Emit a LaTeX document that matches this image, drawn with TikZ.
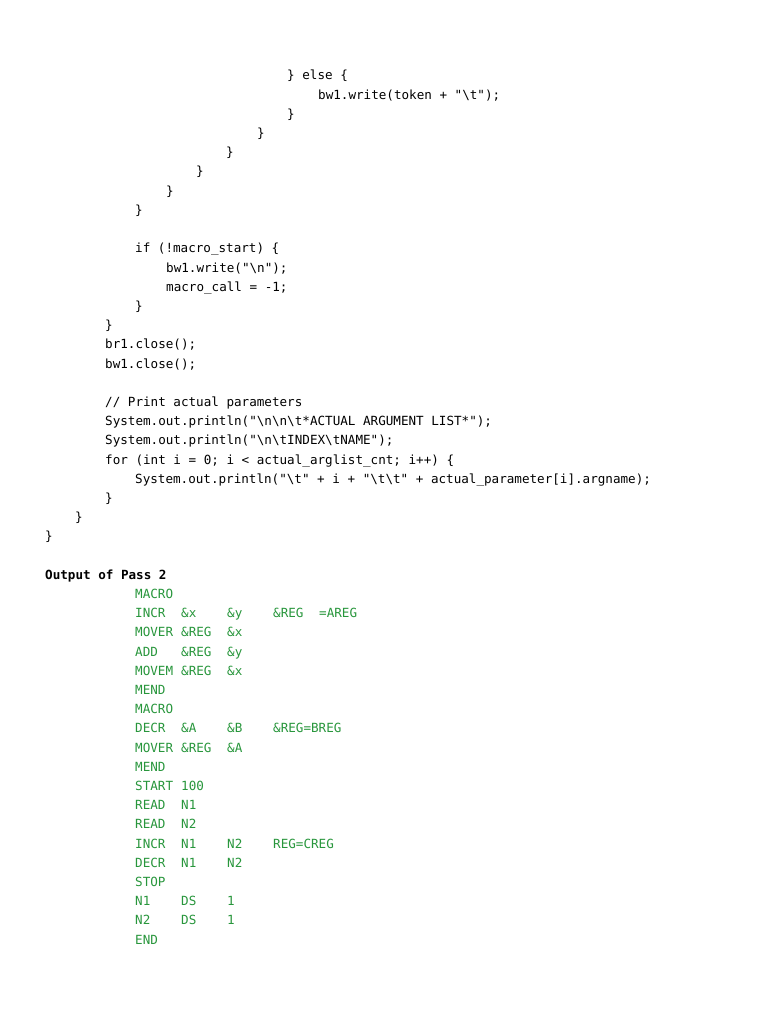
\documentclass[tikz,border=0pt]{standalone}
\usepackage{fontspec}
\newfontfamily\code{DejaVu Sans Mono}
\definecolor{codegreen}{RGB}{40,150,60}
\newcommand{\bs}{\textbackslash}
\begin{document}
\begin{tikzpicture}[x=1pt,y=1pt,
  cl/.style={anchor=base west,inner sep=0pt,font=\code\fontsize{12.6}{14}\selectfont,text=black},
  gl/.style={cl,text=codegreen}]
\useasboundingbox[fill=white] (0,0) rectangle (768,-1024);
\newcommand{\codeln}[4][cl]{\node[#1] at (#2,{-80-19.2*#3}) {#4};}
\codeln{287}{0}{\} else \{}
\codeln{318}{1}{bw1.write(token + "\bs t");}
\codeln{287}{2}{\}}
\codeln{257}{3}{\}}
\codeln{226}{4}{\}}
\codeln{196}{5}{\}}
\codeln{166}{6}{\}}
\codeln{135}{7}{\}}
\codeln{135}{9}{if (!macro\_start) \{}
\codeln{166}{10}{bw1.write("\bs n");}
\codeln{166}{11}{macro\_call = -1;}
\codeln{135}{12}{\}}
\codeln{105}{13}{\}}
\codeln{105}{14}{br1.close();}
\codeln{105}{15}{bw1.close();}
\codeln{105}{17}{// Print actual parameters}
\codeln{105}{18}{System.out.println("\bs n\bs n\bs t*ACTUAL ARGUMENT LIST*");}
\codeln{105}{19}{System.out.println("\bs n\bs tINDEX\bs tNAME");}
\codeln{105}{20}{for (int i = 0; i < actual\_arglist\_cnt; i++) \{}
\codeln{135}{21}{System.out.println("\bs t" + i + "\bs t\bs t" + actual\_parameter[i].argname);}
\codeln{105}{22}{\}}
\codeln{75}{23}{\}}
\codeln{45}{24}{\}}
\codeln{45}{26}{\bfseries Output of Pass 2}
\codeln[gl]{135}{27}{MACRO}
\codeln[gl]{135}{28}{INCR}\codeln[gl]{181}{28}{\&x}\codeln[gl]{227}{28}{\&y}\codeln[gl]{273}{28}{\&REG}\codeln[gl]{319}{28}{=AREG}
\codeln[gl]{135}{29}{MOVER}\codeln[gl]{181}{29}{\&REG}\codeln[gl]{227}{29}{\&x}
\codeln[gl]{135}{30}{ADD}\codeln[gl]{181}{30}{\&REG}\codeln[gl]{227}{30}{\&y}
\codeln[gl]{135}{31}{MOVEM}\codeln[gl]{181}{31}{\&REG}\codeln[gl]{227}{31}{\&x}
\codeln[gl]{135}{32}{MEND}
\codeln[gl]{135}{33}{MACRO}
\codeln[gl]{135}{34}{DECR}\codeln[gl]{181}{34}{\&A}\codeln[gl]{227}{34}{\&B}\codeln[gl]{273}{34}{\&REG=BREG}
\codeln[gl]{135}{35}{MOVER}\codeln[gl]{181}{35}{\&REG}\codeln[gl]{227}{35}{\&A}
\codeln[gl]{135}{36}{MEND}
\codeln[gl]{135}{37}{START}\codeln[gl]{181}{37}{100}
\codeln[gl]{135}{38}{READ}\codeln[gl]{181}{38}{N1}
\codeln[gl]{135}{39}{READ}\codeln[gl]{181}{39}{N2}
\codeln[gl]{135}{40}{INCR}\codeln[gl]{181}{40}{N1}\codeln[gl]{227}{40}{N2}\codeln[gl]{273}{40}{REG=CREG}
\codeln[gl]{135}{41}{DECR}\codeln[gl]{181}{41}{N1}\codeln[gl]{227}{41}{N2}
\codeln[gl]{135}{42}{STOP}
\codeln[gl]{135}{43}{N1}\codeln[gl]{181}{43}{DS}\codeln[gl]{227}{43}{1}
\codeln[gl]{135}{44}{N2}\codeln[gl]{181}{44}{DS}\codeln[gl]{227}{44}{1}
\codeln[gl]{135}{45}{END}
\end{tikzpicture}
\end{document}
